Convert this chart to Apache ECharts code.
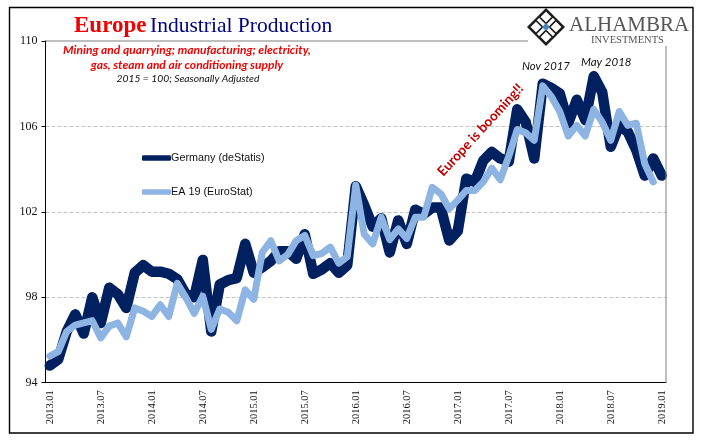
<!DOCTYPE html>
<html><head><meta charset="utf-8">
<style>html,body{margin:0;padding:0;background:#fff}#c{width:705px;height:441px}</style>
<script src="https://cdn.jsdelivr.net/npm/echarts@6/dist/echarts.min.js"></script>
</head><body><div id="c"></div>
<script>
const years = [2013,2014,2015,2016,2017,2018];
const months = ['01','02','03','04','05','06','07','08','09','10','11','12'];
const categories = [];
years.forEach(y => months.forEach(m => categories.push(y + '.' + m)));
categories.push('2019.01');
const germany = [94.8,95.1,96.4,97.2,96.3,98.0,96.8,98.45,98.15,97.5,99.15,99.5,99.2,99.2,99.1,98.85,98.15,98.0,99.75,96.4,98.6,98.8,98.9,100.5,99.15,99.4,99.7,100.15,100.15,99.8,100.95,99.1,99.3,99.6,99.15,99.5,103.2,102.3,101.3,101.7,100.1,101.6,100.5,102.1,101.9,102.2,102.2,100.66,101.1,103.55,103.4,104.4,104.8,104.5,104.35,106.8,106.2,104.5,108.0,107.8,107.55,106.15,107.25,106.3,108.35,107.6,105.05,106.05,105.75,104.9,103.7,104.5,103.7];
const ea19 = [95.25,95.45,96.4,96.7,96.8,96.9,96.1,96.65,96.8,96.15,97.5,97.35,97.1,97.65,97.1,98.65,98.0,97.25,98.05,96.5,97.45,97.3,96.9,98.35,97.9,100.1,100.65,99.7,100.0,100.65,100.9,99.95,100.05,100.35,99.6,99.9,103.25,100.95,100.5,101.75,100.7,101.2,100.75,101.75,101.75,103.15,102.85,102.15,102.55,103.0,103.0,103.4,104.05,103.5,104.6,105.85,105.7,105.35,107.9,107.4,106.7,105.55,106.05,105.55,106.8,106.2,105.35,106.7,106.05,106.15,104.25,103.4];
const seriesNames = ['Germany (deStatis)','EA 19 (EuroStat)'];
const yTicks = {min:94,max:110,interval:4};

const chart = echarts.init(document.getElementById('c'), null, {renderer:'canvas'});
const txt = (x,y,text,font,fill,align) => ({type:'text',x,y,z:20,style:{text,font,fill,textAlign:align||'left',textVerticalAlign:'middle'}});
const line = (x1,y1,x2,y2,stroke,w) => ({type:'line',z:15,shape:{x1,y1,x2,y2},style:{stroke,lineWidth:w}});
const cx = 546, cy = 27, R = 19;
const dia = (r,style,c) => ({type:'polygon',z:19,shape:{points:[[c[0],c[1]-r],[c[0]+r,c[1]],[c[0],c[1]+r],[c[0]-r,c[1]]]},style});
const lattice = [];
[[0,-10],[10,0],[0,10],[-10,0]].forEach(o => {
  lattice.push(dia(6.5,{fill:'#fff',stroke:'#1c1c1c',lineWidth:1.7},[cx+o[0],cy+o[1]]));
});
chart.setOption({
  animation:false,
  backgroundColor:'#fff',
  grid:{left:45.5,right:39,top:41,bottom:58.3,containLabel:false},
  legend:{orient:'vertical',left:137,top:147.5,itemWidth:29,itemHeight:5.5,itemGap:23,icon:'roundRect',
    data:seriesNames,selectedMode:false,
    textStyle:{fontFamily:'Liberation Sans',fontSize:10.8,color:'#111',padding:[0,0,0,-5]}},
  xAxis:{type:'category',data:categories,boundaryGap:true,
    axisLine:{lineStyle:{color:'#000',width:1}},
    axisTick:{interval:0,length:4,lineStyle:{color:'#000'}},
    axisLabel:{interval:5,rotate:90,fontFamily:'Liberation Serif',fontSize:10.5,color:'#111',margin:7.5},
    splitLine:{show:false}},
  yAxis:{type:'value',min:yTicks.min,max:yTicks.max,interval:yTicks.interval,
    axisLine:{show:true,lineStyle:{color:'#000',width:1}},
    axisTick:{show:true,length:4,lineStyle:{color:'#000'}},
    axisLabel:{fontFamily:'Liberation Serif',fontSize:12,color:'#111',margin:8},
    splitLine:{show:true,lineStyle:{color:'#c4c4c4',type:'dashed',width:1}}},
  series:[
    {name:seriesNames[0],type:'line',data:germany,symbol:'none',smooth:false,z:3,color:'#002060',
      lineStyle:{color:'#002060',width:10.5,cap:'round',join:'round'}},
    {name:seriesNames[1],type:'line',data:ea19,symbol:'none',smooth:false,z:4,color:'#8DB4E2',
      lineStyle:{color:'#8DB4E2',width:7,cap:'round',join:'round'}}
  ],
  graphic:[
    {type:'rect',z:14,shape:{x:528,y:30,width:150,height:16},style:{fill:'#fff'}},
    {type:'rect',z:14,shape:{x:47,y:39,width:481,height:4},style:{fill:'#fff'}},
    line(45.5,41,528,41,'#7f7f7f',1),
    line(666,46,666,382.7,'#7f7f7f',1),
    {type:'rect',z:30,shape:{x:9.5,y:7.5,width:683.5,height:425.5},style:{fill:'none',stroke:'#000',lineWidth:1.4}},
    txt(74,26,'Europe','bold 23px "Liberation Serif"','#f00000'),
    txt(150,26,'Industrial Production','21.5px "Liberation Serif"','#000080'),
    txt(187,50,'Mining and quarrying; manufacturing; electricity,','italic bold 12px Lato','#f00000','center'),
    txt(187,65,'gas, steam and air conditioning supply','italic bold 12px Lato','#f00000','center'),
    txt(188,78.5,'2015 = 100; Seasonally Adjusted','italic 10.3px Lato','#111','center'),
    txt(522,66,'Nov 2017','italic 11.3px Lato','#111'),
    txt(581,62,'May 2018','italic 11.5px Lato','#111'),
    {type:'text',z:20,x:480.5,y:130,rotation:Math.PI*47.5/180,originX:0,originY:0,
      style:{text:'Europe is booming!!',font:'bold 13.6px Lato',fill:'#c00000',textAlign:'center',textVerticalAlign:'middle'}},
    dia(R,{fill:'#1c1c1c'},[cx,cy]),
    dia(R-3,{fill:'#fff'},[cx,cy]),
    ...lattice,
    dia(4,{fill:'#4f81bd'},[cx,cy]),
    txt(569,25,'ALHAMBRA','21px "Liberation Serif"','#555'),
    txt(591,40,'INVESTMENTS','10.5px "Liberation Serif"','#555')
  ]
});
</script></body></html>
